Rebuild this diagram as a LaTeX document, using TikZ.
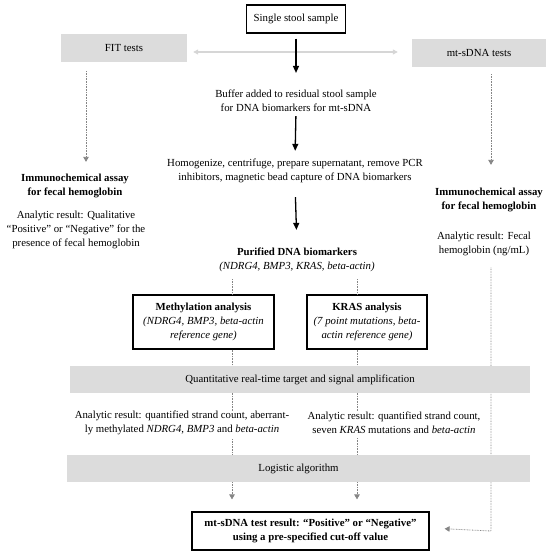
\documentclass[tikz,border=0pt]{standalone}
\usepackage{fontspec}
\setmainfont{Liberation Serif}
\usetikzlibrary{arrows.meta}
\definecolor{barGray}{HTML}{DCDCDC}
\definecolor{dotGray}{HTML}{858585}
\definecolor{lightArrow}{HTML}{D6D6D6}
\tikzset{
  base/.style={font=\fontsize{10.8}{14}\selectfont, align=center, inner sep=0pt},
  blackbox/.style={base, draw=black, line width=1.1pt},
  graybar/.style={base, fill=barGray, minimum height=27pt},
  mainarrow/.style={-{Triangle[length=7pt,width=6pt]}, line width=1.3pt},
  dotline/.style={draw=dotGray, line width=0.8pt, dash pattern=on 0.7pt off 0.9pt},
  dotarrow/.style={dotline, -{Triangle[length=5pt,width=5.5pt]}},
  lightarrow/.style={draw=lightArrow, line width=1.1pt, {Triangle[length=5pt,width=5pt]}-{Triangle[length=5pt,width=5pt]}}
}
\begin{document}
\begin{tikzpicture}[x=1pt,y=-1pt]
\useasboundingbox (0,0) rectangle (550,556);

% helper columns
\coordinate (cF) at (86,0);
\coordinate (cL) at (232,0);
\coordinate (cR) at (357,0);
\coordinate (cM) at (491,0);

% lines that run behind bars/texts first
\node[base] (anL) at (182,423) {Analytic result: quantified strand count, aberrant-\\ly methylated \textit{NDRG4}, \textit{BMP3} and \textit{beta-actin}};
\node[base] (anR) at (394,423) {Analytic result: quantified strand count,\\seven \textit{KRAS} mutations and \textit{beta-actin}};

\node[blackbox, minimum width=141pt, minimum height=54pt] (meth) at (203.5,322)
  {\textbf{Methylation analysis}\\\textit{(NDRG4, BMP3, beta-actin}\\\textit{reference gene)}};
\node[blackbox, minimum width=120pt, minimum height=54pt] (kras) at (367,322)
  {\textbf{KRAS analysis}\\\textit{(7 point mutations, beta-}\\\textit{actin reference gene)}};

\node[blackbox, line width=1.2pt, minimum width=237pt, minimum height=38pt] (result) at (310.5,531)
  {\textbf{mt-sDNA test result: “Positive” or “Negative”}\\\textbf{using a pre-specified cut-off value}};

\node[base] (mtR) at (484,243.5) {Analytic result: Fecal\\hemoglobin (ng/mL)};

\draw[dotline] (cL |- meth.south) -- (cL |- anL.north);
\draw[dotline] (cR |- kras.south) -- (cR |- anR.north);
\draw[dotarrow, shorten <=12pt, shorten >=15pt] (cM |- mtR.south) -- (cM |- result.east) -- ([yshift=3pt]result.east);

% gray bars on top
\node[graybar, minimum width=460pt] (quant) at (300,379.5) {Quantitative real-time target and signal amplification};
\node[graybar, minimum width=463pt] (logi) at (298.5,468.5) {Logistic algorithm};

\draw[dotline, shorten <=4pt] (cL |- anL.south) -- (cL |- logi.north);
\draw[dotline, shorten <=4pt] (cR |- anR.south) -- (cR |- logi.north);
\draw[dotarrow, shorten >=12pt] (cL |- logi.south) -- (cL |- result.north);
\draw[dotarrow, shorten >=12pt] (cR |- logi.south) -- (cR |- result.north);

% top part
\node[blackbox, line width=1.1pt, minimum width=99pt, minimum height=28pt] (start) at (296,19) {Single stool sample};
\node[graybar, minimum width=126pt, minimum height=28pt] (fit) at (124,48) {FIT tests};
\node[graybar, minimum width=134pt, minimum height=28pt] (mt) at (479,53) {mt-sDNA tests};

\draw[lightarrow] ([xshift=6pt,yshift=-4pt]fit.east) -- ([xshift=-14pt,yshift=1pt]mt.west);

\node[base] (buffer) at (296,100.5) {Buffer added to residual stool sample\\for DNA biomarkers for mt-sDNA};
\node[base] (homog) at (295,170.5) {Homogenize, centrifuge, prepare supernatant, remove PCR\\inhibitors, magnetic bead capture of DNA biomarkers};
\node[base] (purified) at (297,260) {\textbf{Purified DNA biomarkers}\\\textit{(NDRG4, BMP3, KRAS, beta-actin)}};

\draw[mainarrow, shorten <=5pt, shorten >=16.5pt] (start.south) -- (buffer.north);
\draw[mainarrow, shorten <=4.5pt, shorten >=7.5pt] (buffer.south) -- (homog.north);
\draw[mainarrow, shorten <=14.5pt, shorten >=18pt] (homog.south) -- (purified.north);

\draw[dotline, shorten <=7pt] (cL |- purified.south) -- (cL |- meth.north);
\draw[dotline, shorten <=7pt] (cR |- purified.south) -- (cR |- kras.north);

% left column
\node[base] (fitT) at (75,186) {\textbf{Immunochemical assay}\\\textbf{for fecal hemoglobin}};
\node[base] (fitR) at (76,230) {Analytic result: Qualitative\\“Positive” or “Negative” for the\\presence of fecal hemoglobin};
\draw[dotarrow, shorten <=9pt, shorten >=12pt] (cF |- fit.south) -- (cF |- fitT.north);

% right column
\node[base] (mtT) at (489,200) {\textbf{Immunochemical assay}\\\textbf{for fecal hemoglobin}};
\draw[dotarrow, shorten <=7pt, shorten >=23pt] (cM |- mt.south) -- (cM |- mtT.north);

\end{tikzpicture}
\end{document}
